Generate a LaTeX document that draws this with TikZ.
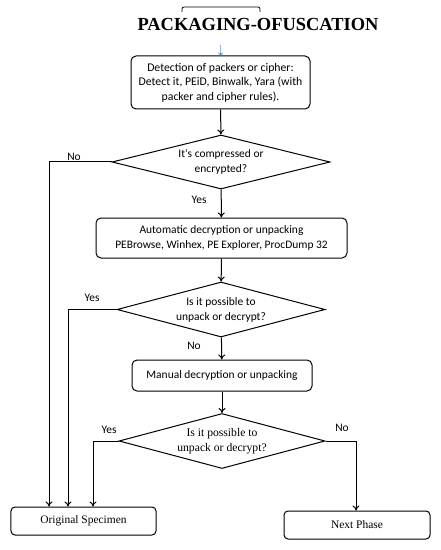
\documentclass[tikz,border=0pt]{standalone}
\usepackage{fontspec}
\setmainfont{Liberation Serif}
\newfontfamily\calibri{Carlito}
\usepackage{tikz}
\usetikzlibrary{
    positioning,
    arrows.meta,
    calc,
    shapes.geometric
}
\definecolor{arrowBlue}{RGB}{70, 145, 215}

\begin{document}
\begin{tikzpicture}[x=1bp, y=-1bp, >={To[length=5pt,width=7pt]},
    procBox/.style={draw, line width=1bp, rounded corners=5bp, align=center, inner sep=0pt},
    decision/.style={draw, line width=1bp, diamond, aspect=4, inner sep=0pt, align=center},
    flow/.style={->, line width=1bp},
    answer/.style={font=\calibri\fontsize{11.5}{13}\selectfont}]
        \useasboundingbox (0,0) rectangle (441,550);

        % 見出し
        \draw[line width=0.8bp, rounded corners=2bp] (182,12)--(182,7)--(260,7)--(260,12);
        \node[font=\bfseries\fontsize{18.5}{22}\selectfont] (title) at (258,24) {PACKAGING-OFUSCATION};

        % 処理とその分岐
        \node[procBox, minimum width=179bp, minimum height=53bp,
            font=\calibri\fontsize{11.8}{14.5}\selectfont] (detect) at (220.5,82.5)
            {Detection of packers or cipher:\\Detect it, PEiD, Binwalk, Yara (with\\packer and cipher rules).};
        \node[decision, minimum width=218bp, minimum height=54bp,
            font=\calibri\fontsize{11.5}{15}\selectfont] (packed) at (221,162)
            {It's compressed or\\encrypted?};
        \node[procBox, minimum width=251bp, minimum height=40bp,
            font=\calibri\fontsize{11.5}{14.5}\selectfont] (autoUnpack) at (221.5,238)
            {Automatic decryption or unpacking\\PEBrowse, Winhex, PE Explorer, ProcDump 32};
        \node[decision, minimum width=208bp, minimum height=55bp,
            font=\calibri\fontsize{11.5}{15}\selectfont] (autoOk) at (221,309.5)
            {Is it possible to\\unpack or decrypt?};
        \node[procBox, minimum width=180bp, minimum height=31bp,
            font=\calibri\fontsize{11.5}{14.5}\selectfont] (manualUnpack) at (222,375.5)
            {Manual decryption or unpacking};
        \node[decision, minimum width=206bp, minimum height=55bp,
            font=\fontsize{11.7}{15}\selectfont] (manualOk) at (222,441)
            {Is it possible to\\unpack or decrypt?};
        \node[procBox, rounded corners=4bp, minimum width=145bp, minimum height=28bp,
            font=\fontsize{11.5}{12}\selectfont] (orig) at (83.5,521) {Original Specimen};
        \node[procBox, rounded corners=4bp, minimum width=146bp, minimum height=28bp,
            font=\fontsize{11.5}{12}\selectfont] (next) at (357,525) {Next Phase};

        % 曲がり角
        \coordinate (noTurn) at (49,162);
        \coordinate (yesTurnA) at (68,309.5);
        \coordinate (yesTurnB) at (93,441);
        \coordinate (noTurnB) at (356,441);
        \coordinate (entry) at (220.7,45);

        % 矢印
        \draw[->, arrowBlue, line width=0.6bp, >={To[length=3pt,width=5pt]}] (entry) -- (detect.north);
        \draw[flow] (detect) -- (packed);
        \draw[flow] (packed) -- (autoUnpack);
        \draw[flow] (autoUnpack) -- (autoOk);
        \draw[flow] (autoOk) -- (manualUnpack);
        \draw[flow] (manualUnpack) -- (manualOk);
        \draw[flow] (packed.west) -- (noTurn) -- (noTurn |- orig.north);
        \draw[flow] (autoOk.west) -- (yesTurnA) -- (yesTurnA |- orig.north);
        \draw[flow] (manualOk.west) -- (yesTurnB) -- (yesTurnB |- orig.north);
        \draw[flow] (manualOk.east) -- (noTurnB) -- (noTurnB |- next.north);

        \node[answer] at (74,157) {No};
        \node[answer] at (199,200) {Yes};
        \node[answer] at (92,298) {Yes};
        \node[answer] at (194,346) {No};
        \node[answer] at (109,430) {Yes};
        \node[answer] at (342,428) {No};
    \end{tikzpicture}
\end{document}
